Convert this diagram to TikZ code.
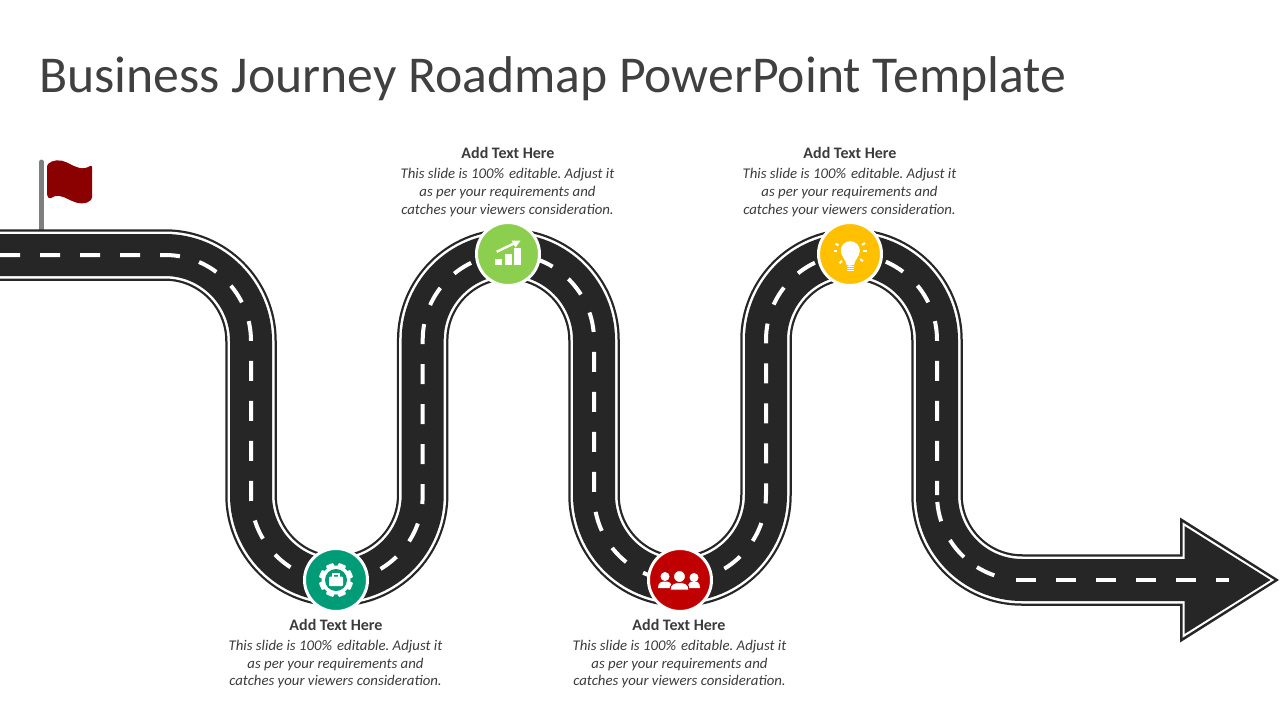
\documentclass[tikz,border=0pt]{standalone}
\usepackage{fontspec}
\setmainfont{Carlito}
\definecolor{roaddark}{HTML}{262626}
\definecolor{titlegrey}{HTML}{404040}
\definecolor{bodygrey}{HTML}{3B3B3B}
\definecolor{teal}{HTML}{009B77}
\definecolor{leaf}{HTML}{8CCF4E}
\definecolor{amber}{HTML}{FFC000}
\definecolor{crimson}{HTML}{C00000}
\definecolor{flagred}{HTML}{8B0000}
\definecolor{polegrey}{HTML}{7F7F7F}
\newcommand{\bodylines}{This slide is 100\%\hspace{5pt}editable. Adjust it\\as per your requirements and\\catches your viewers consideration.}
\tikzset{
  roadroute/.style={insert path={
    (0,255) -- (165,255) arc (-90:0:86) -- (251,495) arc (180:0:85.85) -- (422.7,340)
    arc (180:360:85.65) -- (594,495) arc (180:0:86) -- (766,340) arc (180:360:85.5)
    -- (937,495) arc (180:90:85) -- (1229,580)}},
  headshape/.style={insert path={(1180+#1*1.0,517.5+#1*1.9) -- (1279-#1*1.9,580) -- (1180+#1*1.0,642.5-#1*1.9) -- cycle}},
  lanedash/.style={draw=white,line width=4pt,dash pattern=on 20pt off 20pt,dash phase=#1},
  lanepiece/.style={draw=white,line width=4pt},
  stop/.style={circle,draw=white,line width=3pt,minimum size=63pt,inner sep=0pt},
  headtext/.style={font=\fontsize{16}{18}\selectfont\bfseries,text=bodygrey,anchor=center,inner sep=0pt},
  bodytext/.style={font=\fontsize{14.8}{17.6}\selectfont\itshape\frenchspacing,text=bodygrey,align=center,anchor=north,inner sep=0pt},
}
\begin{document}
\begin{tikzpicture}[x=1pt,y=-1pt]
\useasboundingbox (0,0) rectangle (1280,720);
\node[anchor=base west,inner sep=0pt,text=titlegrey,font=\fontsize{51.7}{60}\selectfont] (title) at (39,92) {Business Journey Roadmap PowerPoint Template};
% flag
\draw[polegrey,line width=5pt,line cap=round] (41.5,162) -- (41.5,231);
\fill[flagred,rounded corners=1.5pt] (47,165) .. controls (52,160) and (60,159) .. (68,163) .. controls (76,167) and (82,171) .. (92,165)
  -- (92,199) .. controls (86,205) and (78,204) .. (70,200) .. controls (62,196) and (56,194) .. (50,199) -- (47,196) -- cycle;
% road
\path[draw=roaddark,line width=51.5pt,roadroute];
\fill[roaddark,headshape=0];
\path[draw=white,line width=47pt,roadroute];
\fill[white,headshape=2.5];
\path[draw=roaddark,line width=42pt,roadroute];
\fill[roaddark,headshape=4.5];
% lane markings
\path[lanedash=0] (0,255) -- (165,255) arc (-90:0:86) -- (251,495) arc (180:90:85.85);
\path[lanedash=34.15] (336.85,580.85) arc (90:0:85.85) -- (422.7,340) arc (180:270:85.65);
\path[lanedash=13.5] (508.35,254.35) arc (270:360:85.65) -- (594,495) arc (180:90:86);
\path[lanedash=33.4] (680,581) arc (90:0:86) -- (766,340) arc (180:270:85.5);
\path[lanedash=4.7] (851.5,254.5) arc (270:360:85.5) -- (937,495);
\path[lanepiece] (1022,495) ++(175.3:85) arc (175.3:162:85);
\path[lanepiece] (1022,495) ++(148:85) arc (148:133:85);
\path[lanepiece] (1022,495) ++(122:85) arc (122:109:85);
\path[lanedash=0] (1016,580) -- (1229,580);
% stops
\node[stop,fill=teal] (s1) at (336,580) {};
\node[stop,fill=leaf] (s2) at (508,254) {};
\node[stop,fill=crimson] (s3) at (680,580) {};
\node[stop,fill=amber] (s4) at (850,254) {};
% gear icon
\begin{scope}[shift={(336,580)}]
  \foreach \a in {0,45,...,315}{\fill[white,rotate=\a+22.5,rounded corners=1pt] (-4,-17) rectangle (4,-10);}
  \fill[white] (0,0) circle[radius=14.5];
  \fill[teal] (0,0) circle[radius=11];
  \fill[white,rounded corners=1pt] (-7,-3.5) rectangle (7,6);
  \draw[white,line width=1.2pt] (-3,-3.5) -- (-3,-6) -- (3,-6) -- (3,-3.5);
\end{scope}
% chart icon
\fill[white] (495,259.3) rectangle (501.7,265);
\fill[white] (505,254.3) rectangle (511.7,265);
\fill[white] (514.3,248.3) rectangle (521,265);
\draw[white,line width=2.4pt] (496.7,251.7) -- (514,243.5);
\fill[white] (520.5,240.5) -- (511.5,240.5) -- (515.5,247.5) -- cycle;
% people icon
\fill[white] (658,588) .. controls (658,582) and (662,581.5) .. (665,581.5) .. controls (668,581.5) and (672,582) .. (672,588) -- cycle;
\fill[white] (665,576.5) circle[radius=4.5];
\fill[white] (688,588) .. controls (688,582) and (691,581.5) .. (694,581.5) .. controls (697,581.5) and (700,582) .. (700,588) -- cycle;
\fill[white] (694,577.5) circle[radius=4.5];
\fill[white,draw=crimson,line width=1pt] (670,590) .. controls (670,584) and (674,582.5) .. (679.5,582.5) .. controls (685,582.5) and (689,584) .. (689,590) -- cycle;
\fill[white,draw=crimson,line width=1pt] (679.5,576.5) circle[radius=6];
% bulb icon
\begin{scope}[shift={(850.3,250.7)}]
  \fill[white] (-3.8,14.3) .. controls (-4,9) and (-9.5,6) .. (-9.5,0) arc (180:360:9.5) .. controls (9.5,6) and (4,9) .. (3.8,14.3) -- cycle;
  \foreach \yy in {16,18,20}{\fill[white] (-3.6,\yy-0.6) rectangle (3.6,\yy+0.6);}
  \foreach \a in {0,27,-40,-93,-130,180,155}{\draw[white,line width=2pt,rotate=\a] (13,0) -- (16.5,0);}
\end{scope}
% labels
\node[headtext] (h2) at (508,153) {Add Text Here};
\node[bodytext] (b2) at (507.5,168.5) {\bodylines};
\node[headtext] (h4) at (850,153) {Add Text Here};
\node[bodytext] (b4) at (849.5,168.5) {\bodylines};
\node[headtext] (h1) at (336,625) {Add Text Here};
\node[bodytext] (b1) at (335.5,640) {\bodylines};
\node[headtext] (h3) at (679,625) {Add Text Here};
\node[bodytext] (b3) at (679.5,640) {\bodylines};
\end{tikzpicture}
\end{document}
